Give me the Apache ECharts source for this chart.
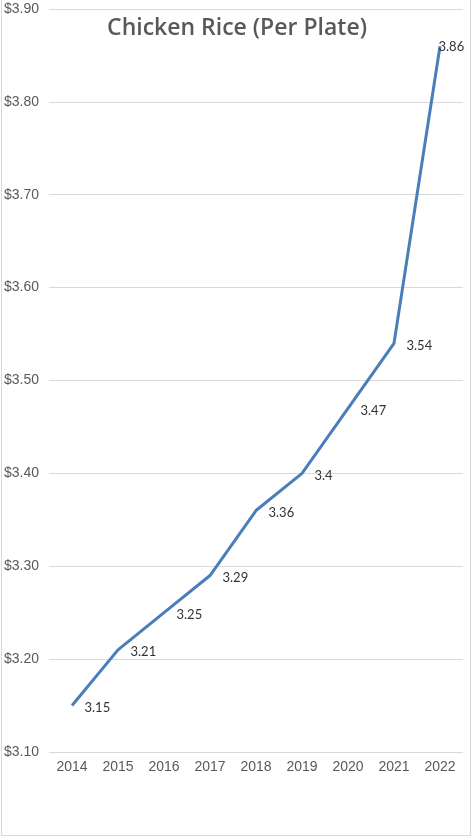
<!DOCTYPE html>
<html>
<head>
<meta charset="utf-8">
<script src="https://cdn.jsdelivr.net/npm/echarts@6/dist/echarts.min.js"></script>
<style>
html,body{margin:0;padding:0;background:#fff;}
#wrap{position:absolute;left:1px;top:0px;width:470px;height:836px;border:1px solid #d9d9d9;border-top:none;box-sizing:border-box;}
#chart{position:absolute;left:0;top:0;width:474px;height:839px;}
</style>
</head>
<body>
<div id="wrap"></div>
<div id="chart"></div>
<script>
const titleText = "Chicken Rice (Per Plate)";
const years = ["2014","2015","2016","2017","2018","2019","2020","2021","2022"];
const prices = [3.15, 3.21, 3.25, 3.29, 3.36, 3.4, 3.47, 3.54, 3.86];
const labelTexts = ["3.15","3.21","3.25","3.29","3.36","3.4","3.47","3.54","3.86"];

const chart = echarts.init(document.getElementById('chart'), null, {renderer:'canvas'});
const seriesData = prices.map((v, i) => {
  const item = { value: v, label: { formatter: labelTexts[i] } };
  if (i === prices.length - 1) item.label.offset = [-14, 1];
  return item;
});
chart.setOption({
  backgroundColor: 'transparent',
  animation: false,
  title: {
    text: titleText,
    left: 'center',
    top: 12,
    textStyle: { fontFamily: 'Open Sans', fontWeight: 600, fontSize: 23, color: '#595959' }
  },
  grid: { left: 49, right: 11, top: 9, bottom: 87, containLabel: false },
  xAxis: {
    type: 'category',
    data: years,
    boundaryGap: true,
    axisLine: { show: false },
    axisTick: { show: false },
    axisLabel: { color: '#595959', fontFamily: 'Liberation Sans', fontSize: 14, margin: 8 }
  },
  yAxis: {
    type: 'value',
    min: 3.1,
    max: 3.9,
    interval: 0.1,
    axisLine: { show: false },
    axisTick: { show: false },
    splitLine: { lineStyle: { color: '#d9d9d9', width: 1 } },
    axisLabel: {
      color: '#595959', fontFamily: 'Liberation Sans', fontSize: 14, margin: 10,
      formatter: v => '$' + v.toFixed(2)
    }
  },
  series: [{
    type: 'line',
    data: seriesData,
    symbol: 'circle',
    showSymbol: true,
    symbolSize: 1,
    itemStyle: { color: 'rgba(0,0,0,0)' },
    lineStyle: { color: '#4a7ebb', width: 3 },
    label: {
      show: true,
      position: 'right',
      distance: 12,
      offset: [0, 2],
      color: '#333333',
      fontFamily: 'Lato',
      fontSize: 13
    }
  }]
});
</script>
</body>
</html>
